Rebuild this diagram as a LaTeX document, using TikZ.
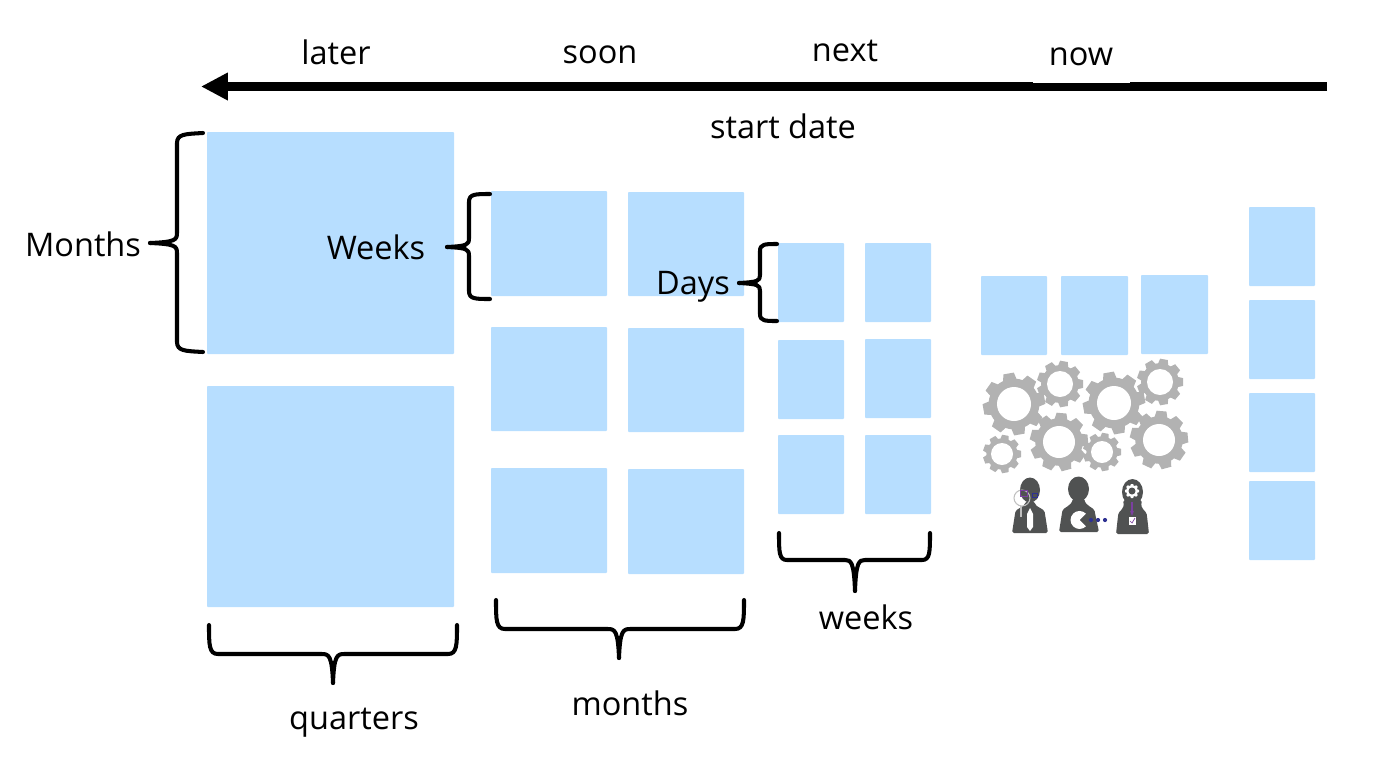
\documentclass[tikz,border=0pt]{standalone}
\usepackage{fontspec}
\setmainfont{Open Sans}
\usetikzlibrary{arrows.meta}
\definecolor{cardblue}{HTML}{B7DEFF}
\definecolor{geargray}{HTML}{B2B2B2}
\definecolor{persongray}{HTML}{505252}
\definecolor{markpurple}{HTML}{7B3FA0}
\definecolor{markblue}{HTML}{2E3192}
\tikzset{
  card/.style 2 args={fill=cardblue,rounded corners=0.5pt,minimum width=#1*0.02cm,minimum height=#2*0.02cm,inner sep=0pt,outer sep=0pt},
  label/.style={font=\fontsize{18.5}{22}\selectfont,inner sep=0pt},
  bracket/.style={line width=2.3pt,line cap=round,line join=round},
  pics/gear/.style n args={6}{code={
    \fill[#5] (0,0) circle (#2*0.82);
    \foreach \a in {1,...,#1} {
      \fill[#5,rotate=\a*360/#1+#4] (#2*0.7,-#2*0.24) -- (#2,-#2*0.17) -- (#2,#2*0.17) -- (#2*0.7,#2*0.24) -- cycle;
    }
    \fill[#6] (0,0) circle (#3);
  }}
}
\begin{document}
\begin{tikzpicture}[x=0.02cm,y=-0.02cm]
    \useasboundingbox (0,0) rectangle (1394,762);
    % cards
    \node[card={247}{222}] (q1) at (330.5,243) {};
    \node[card={247}{221}] (q2) at (330.5,496.5) {};
    \node[card={116}{105}] (m1) at (549,243.5) {};
    \node[card={116}{104}] (m2) at (686,244) {};
    \node[card={116}{104}] (m3) at (549,379) {};
    \node[card={116}{104}] (m4) at (686,380) {};
    \node[card={116}{105}] (m5) at (549,520.5) {};
    \node[card={116}{105}] (m6) at (686,521.5) {};
    \node[card={66}{79}] (w1) at (811,282.5) {};
    \node[card={66}{79}] (w2) at (898,282.5) {};
    \node[card={66}{79}] (w3) at (811,379.5) {};
    \node[card={66}{79}] (w4) at (898,378.5) {};
    \node[card={66}{79}] (w5) at (811,474.5) {};
    \node[card={66}{79}] (w6) at (898,474.5) {};
    \node[card={66}{79}] (n1) at (1014,315.5) {};
    \node[card={67}{79}] (n2) at (1094.5,315.5) {};
    \node[card={67}{79}] (n3) at (1174.5,314.5) {};
    \node[card={66}{79}] (d1) at (1282,246.5) {};
    \node[card={66}{79}] (d2) at (1282,339.5) {};
    \node[card={66}{79}] (d3) at (1282,432.5) {};
    \node[card={66}{79}] (d4) at (1282,520.5) {};
    % time arrow
    \coordinate (a1) at (1327,86.5);
    \coordinate (a2) at (201,86.5);
    \draw[line width=5.1pt,-{Triangle[length=15.3pt,width=14.8pt]}] (a1) -- (a2);
    \fill[white] (1033,72) rectangle (1130,82.7);
    \node[label] (later) at (336,52) {later};
    \node[label] (soon) at (600,54.5) {soon};
    \node[label] (next) at (845,50.5) {next};
    \node[label] (now) at (1081,57) {now};
    \node[label] (start) at (783,126) {start date};
    % side braces
    \node[label] (months) at (83,244) {Months};
    \node[label] (weeks) at (376,247) {Weeks};
    \node[label] (days) at (693,287) {Days};
    \draw[bracket] (203,133) .. controls (185,134) and (177,134) .. (177,143) -- (177,233) .. controls (177,240) and (175,242) .. (150,243);
    \draw[bracket] (203,352) .. controls (185,351) and (177,351) .. (177,342) -- (177,253) .. controls (177,246) and (175,244) .. (150,243);
    \draw[bracket] (490,194) .. controls (475,194) and (469,194) .. (469,202) -- (469,238) .. controls (469,245) and (467,246) .. (447,247);
    \draw[bracket] (490,299) .. controls (475,299) and (469,299) .. (469,291) -- (469,256) .. controls (469,249) and (467,248) .. (447,247);
    \draw[bracket] (777,244) .. controls (765,244) and (760,244) .. (760,251) -- (760,275) .. controls (760,281) and (758,282) .. (739,283);
    \draw[bracket] (777,321) .. controls (765,321) and (760,321) .. (760,314) -- (760,291) .. controls (760,285) and (758,284) .. (739,283);
    % bottom braces
    \node[label] (quarters) at (354,723) {quarters};
    \node[label] (monthsb) at (630,703) {months};
    \node[label] (weeksb) at (866,617) {weeks};
    \draw[bracket] (209,625) .. controls (209,645) and (209,654) .. (218,654) -- (322,654) .. controls (329,654) and (332,656) .. (333,683);
    \draw[bracket] (457,625) .. controls (457,645) and (457,654) .. (448,654) -- (344,654) .. controls (337,654) and (334,656) .. (333,683);
    \draw[bracket] (496,600) .. controls (496,620) and (496,629) .. (505,629) -- (608,629) .. controls (615,629) and (618,631) .. (619,658);
    \draw[bracket] (744,600) .. controls (744,620) and (744,629) .. (735,629) -- (630,629) .. controls (623,629) and (620,631) .. (619,658);
    \draw[bracket] (779,533) .. controls (779,552) and (779,560) .. (787,560) -- (845,560) .. controls (851,560) and (854,562) .. (855,591);
    \draw[bracket] (930,533) .. controls (930,552) and (930,560) .. (922,560) -- (865,560) .. controls (859,560) and (856,562) .. (855,591);
    % gears
    \pic at (1014,404) {gear={8}{31}{17}{10}{geargray}{white}};
    \pic at (1060,384) {gear={9}{23}{13}{0}{geargray}{white}};
    \pic at (1114,403) {gear={8}{31}{17}{10}{geargray}{white}};
    \pic at (1160,382) {gear={9}{23}{13}{0}{geargray}{white}};
    \pic at (1002,454) {gear={9}{19}{11}{0}{geargray}{white}};
    \pic at (1059,442) {gear={9}{29}{16}{5}{geargray}{white}};
    \pic at (1102,452) {gear={9}{19}{11}{0}{geargray}{white}};
    \pic at (1159,440) {gear={9}{29}{16}{5}{geargray}{white}};
    % people
    \fill[persongray,rounded corners=1pt] (1012,533) -- (1015,514) .. controls (1016,508) and (1024,508) .. (1026,501) -- (1034,501) .. controls (1036,508) and (1044,508) .. (1045,514) -- (1048,533) -- cycle;
    \fill[persongray] (1030,490) ellipse (10 and 12.5);
    \fill[white] (1030,508) -- (1033,514) -- (1033,527) -- (1030,531) -- (1027,527) -- (1027,514) -- cycle;
    \draw[white!75!black,line width=0.6pt] (1022,498) circle (8);
    \draw[white!75!black,line width=1.2pt] (1021,506) -- (1021,517);
    \draw[markpurple,line width=0.5pt] (1020,490) rectangle (1027,496);
    \draw[markblue,line width=0.5pt] (1032,493) rectangle (1037,497);
    \fill[persongray,rounded corners=1pt] (1059,532) -- (1062,513) .. controls (1063,507) and (1071,507) .. (1073,498) -- (1084,498) .. controls (1086,507) and (1094,507) .. (1095,513) -- (1099,532) -- cycle;
    \fill[persongray] (1078.5,489) ellipse (10.5 and 12.5);
    \fill[white] (1079.5,520) -- (1085.9,513.6) arc (-45:-315:9) -- cycle;
    \fill[markblue] (1091,520) circle (2.1);
    \fill[markblue] (1098,520) circle (2.1);
    \fill[markblue] (1105,520) circle (2.1);
    \fill[persongray,rounded corners=1pt] (1116,534) -- (1118,516) .. controls (1119,510) and (1125,510) .. (1123,500) -- (1142,500) .. controls (1140,510) and (1146,510) .. (1147,516) -- (1149,534) -- cycle;
    \fill[persongray] (1132.5,492) ellipse (10.5 and 13);
    \pic at (1132,491) {gear={8}{7}{3.5}{0}{white}{persongray}};
    \fill[white] (1129,517) rectangle (1136,525);
    \draw[markpurple,line width=0.7pt,-{Stealth[length=3pt]}] (1132,502) -- (1132,516);
    \draw[markpurple,line width=0.4pt] (1130,521) -- (1132,523) -- (1135,518);
\end{tikzpicture}
\end{document}
